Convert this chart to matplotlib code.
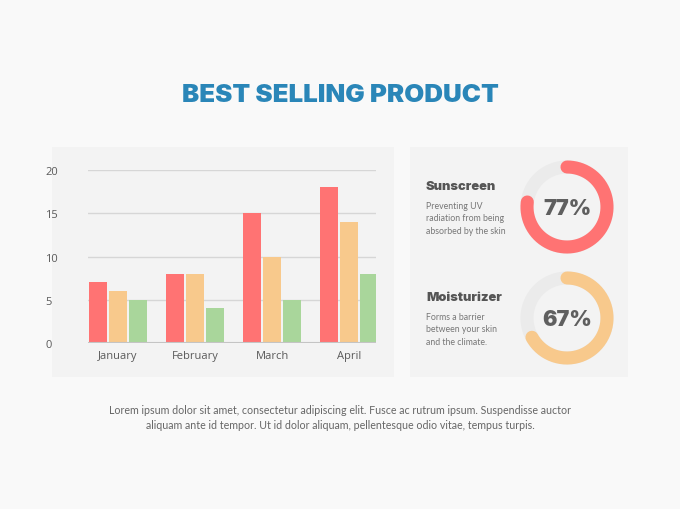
import numpy as np
import matplotlib.pyplot as plt
from matplotlib.patches import Rectangle

# data
months = ["January", "February", "March", "April"]
series_red = [7, 8, 15, 18]
series_orange = [6, 8, 10, 14]
series_green = [5, 4, 5, 8]
y_ticks = [0, 5, 10, 15, 20]

products = ["Sunscreen", "Moisturizer"]
product_notes = ["Preventing UV\nradiation from being\nabsorbed by the skin",
                 "Forms a barrier\nbetween your skin\nand the climate."]
product_pct = [77, 67]
product_colors = ["#ff7373", "#f8c98c"]

title = "BEST SELLING PRODUCT"
footer = ("Lorem ipsum dolor sit amet, consectetur adipiscing elit. Fusce ac rutrum ipsum. Suspendisse auctor\n"
          "aliquam ante id tempor. Ut id dolor aliquam, pellentesque odio vitae, tempus turpis.")

W, H = 680, 510
fig = plt.figure(figsize=(6.8, 5.1), dpi=100)
fig.patch.set_facecolor("#f9f9f9")

# overlay axes in pixel coordinates for panels / text / rings
bg = fig.add_axes([0, 0, 1, 1])
bg.set_xlim(0, W)
bg.set_ylim(H, 0)
bg.axis("off")
bg.set_zorder(0)

bg.add_patch(Rectangle((52, 148), 342, 230, facecolor="#f3f3f3", edgecolor="none"))
bg.add_patch(Rectangle((410, 148), 218, 230, facecolor="#f3f3f3", edgecolor="none"))

bg.text(340, 95, title, ha="center", va="center", fontsize=18.6, fontweight="black",
        family="Inter", color="#2a86b8")
bg.text(340, 418, footer, ha="center", va="center", fontsize=7.7, family="Lato",
        color="#666666", linespacing=1.45)

# donut rings
for i, (name, note, pct, col) in enumerate(zip(products, product_notes, product_pct, product_colors)):
    cy = 208 + i * 111
    cx = 567
    r = 40
    t = np.linspace(0, 2 * np.pi, 200)
    bg.plot(cx + r * np.sin(t), cy - r * np.cos(t), color="#ebebeb", lw=9.4,
            solid_capstyle="butt")
    t = np.linspace(0, 2 * np.pi * pct / 100, 200)
    bg.plot(cx + r * np.sin(t), cy - r * np.cos(t), color=col, lw=9.4,
            solid_capstyle="round")
    bg.text(cx, cy + 1, f"{pct}%", ha="center", va="center", fontsize=15.5,
            fontweight="black", family="Inter", color="#5f5f5f")
    bg.text(426, cy - 21, name, ha="left", va="center", fontsize=9.3,
            fontweight="black", family="Inter", color="#555555")
    bg.text(426, cy + 11, note, ha="left", va="center", fontsize=6.3,
            family="Lato", color="#777777", linespacing=1.55)

# bar chart
ax = fig.add_axes([88 / W, 1 - 344 / H, 288 / W, 173 / H])
ax.set_zorder(1)
ax.patch.set_alpha(0)
x = np.arange(len(months))
bw = 0.234
off = 0.26
ax.bar(x - off, series_red, bw, color="#ff7373", zorder=3)
ax.bar(x, series_orange, bw, color="#f8c98c", zorder=3)
ax.bar(x + off, series_green, bw, color="#a9d69b", zorder=3)
ax.set_xlim(-0.39, 3.35)
ax.set_ylim(0, 20)
ax.set_yticks(y_ticks)
ax.set_xticks(x)
ax.set_xticklabels(months)
ax.grid(axis="y", color="#d6d6d6", lw=1, zorder=0)
ax.axhline(0, color="#c4c4c4", lw=1.5, zorder=4)
for s in ax.spines.values():
    s.set_visible(False)
ax.tick_params(length=0, labelsize=8, colors="#5a5a5a", pad=8)
for lab in ax.get_xticklabels() + ax.get_yticklabels():
    lab.set_family("Open Sans")
for lab in ax.get_yticklabels():
    lab.set_ha("left")
    lab.set_x(-0.11)
ax.tick_params(axis="x", pad=5)

fig.savefig("out.png", dpi=100, facecolor=fig.get_facecolor())
